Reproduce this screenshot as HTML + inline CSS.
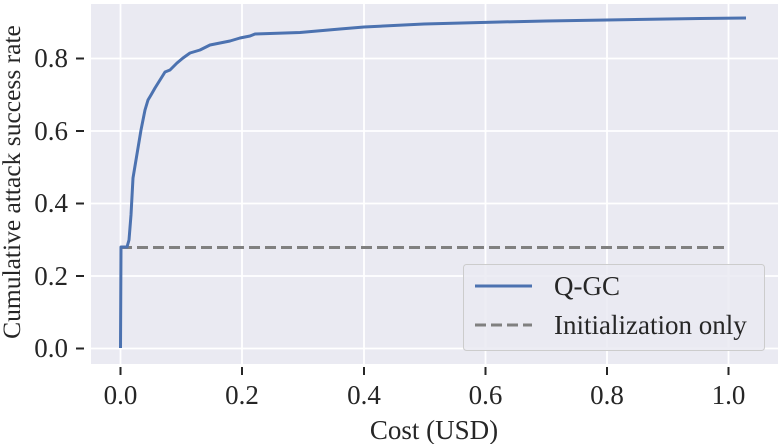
<!DOCTYPE html>
<html><head><style>body{margin:0;background:#fff}svg{display:block}</style></head><body>
<svg width="782" height="444" xmlns="http://www.w3.org/2000/svg" font-family="Liberation Serif, serif">
<rect x="91" y="4" width="687" height="360" fill="#eaeaf2"/>
<g stroke="#fff" stroke-width="1.8">
<line x1="120.5" y1="4" x2="120.5" y2="364"/><line x1="242" y1="4" x2="242" y2="364"/><line x1="364" y1="4" x2="364" y2="364"/><line x1="485.5" y1="4" x2="485.5" y2="364"/><line x1="607" y1="4" x2="607" y2="364"/><line x1="728.5" y1="4" x2="728.5" y2="364"/>
<line x1="91" y1="348.5" x2="778" y2="348.5"/><line x1="91" y1="276" x2="778" y2="276"/><line x1="91" y1="203.5" x2="778" y2="203.5"/><line x1="91" y1="131" x2="778" y2="131"/><line x1="91" y1="58.5" x2="778" y2="58.5"/>
</g>
<g stroke="#262626" stroke-width="2">
<line x1="76" y1="348.5" x2="84" y2="348.5"/><line x1="76" y1="276" x2="84" y2="276"/><line x1="76" y1="203.5" x2="84" y2="203.5"/><line x1="76" y1="131" x2="84" y2="131"/><line x1="76" y1="58.5" x2="84" y2="58.5"/>
<line x1="120.5" y1="367" x2="120.5" y2="375"/><line x1="242" y1="367" x2="242" y2="375"/><line x1="364" y1="367" x2="364" y2="375"/><line x1="485.5" y1="367" x2="485.5" y2="375"/><line x1="607" y1="367" x2="607" y2="375"/><line x1="728.5" y1="367" x2="728.5" y2="375"/>
</g>
<g font-size="27" fill="#262626" text-anchor="end">
<text x="68" y="357">0.0</text><text x="68" y="285">0.2</text><text x="68" y="212">0.4</text><text x="68" y="140">0.6</text><text x="68" y="67">0.8</text>
</g>
<g font-size="27" fill="#262626" text-anchor="middle">
<text x="120.5" y="404">0.0</text><text x="242" y="404">0.2</text><text x="364" y="404">0.4</text><text x="485.5" y="404">0.6</text><text x="607" y="404">0.8</text><text x="728.5" y="404">1.0</text>
<text x="434" y="439" font-size="27">Cost (USD)</text>
<text transform="translate(20,182) rotate(-90)" font-size="25.5">Cumulative attack success rate</text>
</g>
<line x1="121" y1="247.5" x2="728.5" y2="247.5" stroke="#808080" stroke-width="3" stroke-dasharray="11,5"/>
<polyline fill="none" stroke="#4c72b0" stroke-width="3" stroke-linejoin="round" points="120.5,348 121,247 127,247 129,240 131,215 133,178 136,160 138,148 141,130 145,110 148,100 151,95 155,88 160,80 165,72 170,70 177,63 183,58 190,53 200,50 210,45 220,43 230,41 240,38 250,36 255,34 300,32.5 340,29 364,27 424,24 500,22 546,21 607,20 667,19 700,18.5 746,18"/>
<rect x="463.5" y="264.5" width="301" height="86" rx="3" fill="#eaeaf2" fill-opacity="0.85" stroke="#cccccc" stroke-width="1"/>
<line x1="475" y1="286" x2="532" y2="286" stroke="#4c72b0" stroke-width="3"/>
<line x1="475" y1="325" x2="532" y2="325" stroke="#808080" stroke-width="3" stroke-dasharray="11,5"/>
<g font-size="27" fill="#262626"><text x="554" y="295">Q-GC</text><text x="554" y="334">Initialization only</text></g>
</svg>
</body></html>
